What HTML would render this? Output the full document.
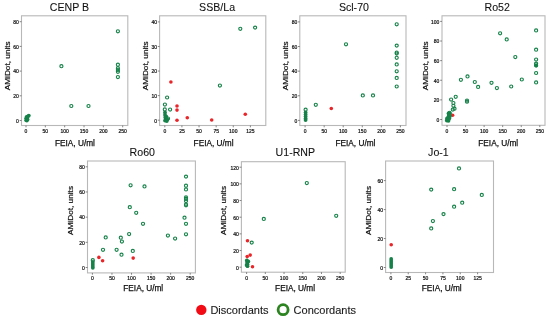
<!DOCTYPE html><html><head><meta charset="utf-8"><style>html,body{margin:0;padding:0;background:#fff;}svg{display:block;filter:blur(0.3px);}text{font-family:"Liberation Sans",sans-serif;}</style></head><body>
<svg width="550" height="318" viewBox="0 0 550 318">
<rect width="550" height="318" fill="#fff"/>
<rect x="21.5" y="15.8" width="106.30" height="109.70" fill="none" stroke="#b8b8b8" stroke-width="1.1"/>
<line x1="19.70" y1="120.50" x2="21.50" y2="120.50" stroke="#666" stroke-width="0.8"/>
<text x="18.90" y="122.80" font-size="5" text-anchor="end" fill="#111" stroke="#111" stroke-width="0.2">0</text>
<line x1="19.70" y1="95.80" x2="21.50" y2="95.80" stroke="#666" stroke-width="0.8"/>
<text x="18.90" y="98.10" font-size="5" text-anchor="end" fill="#111" stroke="#111" stroke-width="0.2">20</text>
<line x1="19.70" y1="71.10" x2="21.50" y2="71.10" stroke="#666" stroke-width="0.8"/>
<text x="18.90" y="73.40" font-size="5" text-anchor="end" fill="#111" stroke="#111" stroke-width="0.2">40</text>
<line x1="19.70" y1="46.40" x2="21.50" y2="46.40" stroke="#666" stroke-width="0.8"/>
<text x="18.90" y="48.70" font-size="5" text-anchor="end" fill="#111" stroke="#111" stroke-width="0.2">60</text>
<line x1="19.70" y1="21.70" x2="21.50" y2="21.70" stroke="#666" stroke-width="0.8"/>
<text x="18.90" y="24.00" font-size="5" text-anchor="end" fill="#111" stroke="#111" stroke-width="0.2">80</text>
<line x1="26.00" y1="125.50" x2="26.00" y2="127.30" stroke="#666" stroke-width="0.8"/>
<text x="26.00" y="132.90" font-size="5" text-anchor="middle" fill="#111" stroke="#111" stroke-width="0.2">0</text>
<line x1="45.34" y1="125.50" x2="45.34" y2="127.30" stroke="#666" stroke-width="0.8"/>
<text x="45.34" y="132.90" font-size="5" text-anchor="middle" fill="#111" stroke="#111" stroke-width="0.2">50</text>
<line x1="64.68" y1="125.50" x2="64.68" y2="127.30" stroke="#666" stroke-width="0.8"/>
<text x="64.68" y="132.90" font-size="5" text-anchor="middle" fill="#111" stroke="#111" stroke-width="0.2">100</text>
<line x1="84.02" y1="125.50" x2="84.02" y2="127.30" stroke="#666" stroke-width="0.8"/>
<text x="84.02" y="132.90" font-size="5" text-anchor="middle" fill="#111" stroke="#111" stroke-width="0.2">150</text>
<line x1="103.36" y1="125.50" x2="103.36" y2="127.30" stroke="#666" stroke-width="0.8"/>
<text x="103.36" y="132.90" font-size="5" text-anchor="middle" fill="#111" stroke="#111" stroke-width="0.2">200</text>
<line x1="122.70" y1="125.50" x2="122.70" y2="127.30" stroke="#666" stroke-width="0.8"/>
<text x="122.70" y="132.90" font-size="5" text-anchor="middle" fill="#111" stroke="#111" stroke-width="0.2">250</text>
<text x="49.8" y="11.3" font-size="10.6" fill="#111" stroke="#111" stroke-width="0.08">CENP B</text>
<text x="55.0" y="145.5" font-size="8.25" fill="#111" stroke="#111" stroke-width="0.25">FEIA, U/ml</text>
<text transform="translate(10.4,65.8) rotate(-90)" font-size="7.6" text-anchor="middle" textLength="49" lengthAdjust="spacingAndGlyphs" fill="#111" stroke="#111" stroke-width="0.2">AMiDot, units</text>
<circle cx="26.2" cy="120.2" r="1.9" fill="#168249"/>
<circle cx="26.2" cy="118.3" r="1.9" fill="#168249"/>
<circle cx="26.6" cy="116.8" r="1.9" fill="#168249"/>
<circle cx="27.6" cy="119.5" r="1.9" fill="#168249"/>
<circle cx="27.8" cy="116.5" r="1.9" fill="#168249"/>
<circle cx="28.8" cy="115.6" r="1.9" fill="#168249"/>
<circle cx="26.8" cy="120.5" r="1.9" fill="#168249"/>
<circle cx="117.9" cy="31.3" r="1.55" fill="none" stroke="#168249" stroke-width="1.15"/>
<circle cx="61.4" cy="66.2" r="1.55" fill="none" stroke="#168249" stroke-width="1.15"/>
<circle cx="71.3" cy="106.0" r="1.55" fill="none" stroke="#168249" stroke-width="1.15"/>
<circle cx="88.5" cy="106.0" r="1.55" fill="none" stroke="#168249" stroke-width="1.15"/>
<circle cx="117.9" cy="64.7" r="1.55" fill="none" stroke="#168249" stroke-width="1.15"/>
<circle cx="117.9" cy="68.2" r="1.55" fill="none" stroke="#168249" stroke-width="1.15"/>
<circle cx="117.9" cy="70" r="1.55" fill="none" stroke="#168249" stroke-width="1.15"/>
<circle cx="117.9" cy="71.8" r="1.55" fill="none" stroke="#168249" stroke-width="1.15"/>
<circle cx="117.9" cy="77.1" r="1.55" fill="none" stroke="#168249" stroke-width="1.15"/>
<rect x="159.6" y="15.8" width="106.20" height="109.70" fill="none" stroke="#b8b8b8" stroke-width="1.1"/>
<line x1="157.80" y1="120.20" x2="159.60" y2="120.20" stroke="#666" stroke-width="0.8"/>
<text x="157.00" y="122.50" font-size="5" text-anchor="end" fill="#111" stroke="#111" stroke-width="0.2">0</text>
<line x1="157.80" y1="95.62" x2="159.60" y2="95.62" stroke="#666" stroke-width="0.8"/>
<text x="157.00" y="97.92" font-size="5" text-anchor="end" fill="#111" stroke="#111" stroke-width="0.2">10</text>
<line x1="157.80" y1="71.05" x2="159.60" y2="71.05" stroke="#666" stroke-width="0.8"/>
<text x="157.00" y="73.35" font-size="5" text-anchor="end" fill="#111" stroke="#111" stroke-width="0.2">20</text>
<line x1="157.80" y1="46.47" x2="159.60" y2="46.47" stroke="#666" stroke-width="0.8"/>
<text x="157.00" y="48.77" font-size="5" text-anchor="end" fill="#111" stroke="#111" stroke-width="0.2">30</text>
<line x1="157.80" y1="21.90" x2="159.60" y2="21.90" stroke="#666" stroke-width="0.8"/>
<text x="157.00" y="24.20" font-size="5" text-anchor="end" fill="#111" stroke="#111" stroke-width="0.2">40</text>
<line x1="164.80" y1="125.50" x2="164.80" y2="127.30" stroke="#666" stroke-width="0.8"/>
<text x="164.80" y="132.90" font-size="5" text-anchor="middle" fill="#111" stroke="#111" stroke-width="0.2">0</text>
<line x1="181.92" y1="125.50" x2="181.92" y2="127.30" stroke="#666" stroke-width="0.8"/>
<text x="181.92" y="132.90" font-size="5" text-anchor="middle" fill="#111" stroke="#111" stroke-width="0.2">25</text>
<line x1="199.04" y1="125.50" x2="199.04" y2="127.30" stroke="#666" stroke-width="0.8"/>
<text x="199.04" y="132.90" font-size="5" text-anchor="middle" fill="#111" stroke="#111" stroke-width="0.2">50</text>
<line x1="216.16" y1="125.50" x2="216.16" y2="127.30" stroke="#666" stroke-width="0.8"/>
<text x="216.16" y="132.90" font-size="5" text-anchor="middle" fill="#111" stroke="#111" stroke-width="0.2">75</text>
<line x1="233.28" y1="125.50" x2="233.28" y2="127.30" stroke="#666" stroke-width="0.8"/>
<text x="233.28" y="132.90" font-size="5" text-anchor="middle" fill="#111" stroke="#111" stroke-width="0.2">100</text>
<line x1="250.40" y1="125.50" x2="250.40" y2="127.30" stroke="#666" stroke-width="0.8"/>
<text x="250.40" y="132.90" font-size="5" text-anchor="middle" fill="#111" stroke="#111" stroke-width="0.2">125</text>
<text x="199.1" y="11.3" font-size="10.6" fill="#111" stroke="#111" stroke-width="0.08">SSB/La</text>
<text x="193.6" y="145.5" font-size="8.25" fill="#111" stroke="#111" stroke-width="0.25">FEIA, U/ml</text>
<text transform="translate(147.7,65.8) rotate(-90)" font-size="7.6" text-anchor="middle" textLength="49" lengthAdjust="spacingAndGlyphs" fill="#111" stroke="#111" stroke-width="0.2">AMiDot, units</text>
<circle cx="170.9" cy="82" r="1.8" fill="#e8262a"/>
<circle cx="177" cy="106" r="1.8" fill="#e8262a"/>
<circle cx="177" cy="110.1" r="1.8" fill="#e8262a"/>
<circle cx="177" cy="120.2" r="1.8" fill="#e8262a"/>
<circle cx="187.3" cy="117.7" r="1.8" fill="#e8262a"/>
<circle cx="211.7" cy="120" r="1.8" fill="#e8262a"/>
<circle cx="245.3" cy="114.3" r="1.8" fill="#e8262a"/>
<circle cx="165" cy="112.5" r="1.9" fill="#168249"/>
<circle cx="165" cy="115" r="1.9" fill="#168249"/>
<circle cx="165.3" cy="117.5" r="1.9" fill="#168249"/>
<circle cx="165.8" cy="119.8" r="1.9" fill="#168249"/>
<circle cx="165" cy="120.6" r="1.9" fill="#168249"/>
<circle cx="167.3" cy="119.5" r="1.9" fill="#168249"/>
<circle cx="166.2" cy="116.5" r="1.9" fill="#168249"/>
<circle cx="166.8" cy="121" r="1.9" fill="#168249"/>
<circle cx="240.3" cy="28.8" r="1.55" fill="none" stroke="#168249" stroke-width="1.15"/>
<circle cx="255.1" cy="27.6" r="1.55" fill="none" stroke="#168249" stroke-width="1.15"/>
<circle cx="219.9" cy="85.6" r="1.55" fill="none" stroke="#168249" stroke-width="1.15"/>
<circle cx="167.1" cy="97.5" r="1.55" fill="none" stroke="#168249" stroke-width="1.15"/>
<circle cx="164.9" cy="104.6" r="1.55" fill="none" stroke="#168249" stroke-width="1.15"/>
<circle cx="170.1" cy="109.6" r="1.55" fill="none" stroke="#168249" stroke-width="1.15"/>
<circle cx="164.8" cy="109.4" r="1.55" fill="none" stroke="#168249" stroke-width="1.15"/>
<circle cx="168.0" cy="118.6" r="1.55" fill="none" stroke="#168249" stroke-width="1.15"/>
<rect x="299.8" y="15.8" width="106.20" height="109.70" fill="none" stroke="#b8b8b8" stroke-width="1.1"/>
<line x1="298.00" y1="120.40" x2="299.80" y2="120.40" stroke="#666" stroke-width="0.8"/>
<text x="297.20" y="122.70" font-size="5" text-anchor="end" fill="#111" stroke="#111" stroke-width="0.2">0</text>
<line x1="298.00" y1="95.78" x2="299.80" y2="95.78" stroke="#666" stroke-width="0.8"/>
<text x="297.20" y="98.08" font-size="5" text-anchor="end" fill="#111" stroke="#111" stroke-width="0.2">20</text>
<line x1="298.00" y1="71.15" x2="299.80" y2="71.15" stroke="#666" stroke-width="0.8"/>
<text x="297.20" y="73.45" font-size="5" text-anchor="end" fill="#111" stroke="#111" stroke-width="0.2">40</text>
<line x1="298.00" y1="46.53" x2="299.80" y2="46.53" stroke="#666" stroke-width="0.8"/>
<text x="297.20" y="48.83" font-size="5" text-anchor="end" fill="#111" stroke="#111" stroke-width="0.2">60</text>
<line x1="298.00" y1="21.90" x2="299.80" y2="21.90" stroke="#666" stroke-width="0.8"/>
<text x="297.20" y="24.20" font-size="5" text-anchor="end" fill="#111" stroke="#111" stroke-width="0.2">80</text>
<line x1="305.10" y1="125.50" x2="305.10" y2="127.30" stroke="#666" stroke-width="0.8"/>
<text x="305.10" y="132.90" font-size="5" text-anchor="middle" fill="#111" stroke="#111" stroke-width="0.2">0</text>
<line x1="324.16" y1="125.50" x2="324.16" y2="127.30" stroke="#666" stroke-width="0.8"/>
<text x="324.16" y="132.90" font-size="5" text-anchor="middle" fill="#111" stroke="#111" stroke-width="0.2">50</text>
<line x1="343.22" y1="125.50" x2="343.22" y2="127.30" stroke="#666" stroke-width="0.8"/>
<text x="343.22" y="132.90" font-size="5" text-anchor="middle" fill="#111" stroke="#111" stroke-width="0.2">100</text>
<line x1="362.28" y1="125.50" x2="362.28" y2="127.30" stroke="#666" stroke-width="0.8"/>
<text x="362.28" y="132.90" font-size="5" text-anchor="middle" fill="#111" stroke="#111" stroke-width="0.2">150</text>
<line x1="381.34" y1="125.50" x2="381.34" y2="127.30" stroke="#666" stroke-width="0.8"/>
<text x="381.34" y="132.90" font-size="5" text-anchor="middle" fill="#111" stroke="#111" stroke-width="0.2">200</text>
<line x1="400.40" y1="125.50" x2="400.40" y2="127.30" stroke="#666" stroke-width="0.8"/>
<text x="400.40" y="132.90" font-size="5" text-anchor="middle" fill="#111" stroke="#111" stroke-width="0.2">250</text>
<text x="338.9" y="11.3" font-size="10.6" fill="#111" stroke="#111" stroke-width="0.08">Scl-70</text>
<text x="335.5" y="145.5" font-size="8.25" fill="#111" stroke="#111" stroke-width="0.25">FEIA, U/ml</text>
<text transform="translate(287.6,65.8) rotate(-90)" font-size="7.6" text-anchor="middle" textLength="49" lengthAdjust="spacingAndGlyphs" fill="#111" stroke="#111" stroke-width="0.2">AMiDot, units</text>
<circle cx="331.3" cy="108.5" r="1.8" fill="#e8262a"/>
<circle cx="305.6" cy="112.5" r="1.9" fill="#168249"/>
<circle cx="305.6" cy="114.5" r="1.9" fill="#168249"/>
<circle cx="305.6" cy="116.5" r="1.9" fill="#168249"/>
<circle cx="305.6" cy="118.5" r="1.9" fill="#168249"/>
<circle cx="305.6" cy="120" r="1.9" fill="#168249"/>
<circle cx="396.7" cy="24.3" r="1.55" fill="none" stroke="#168249" stroke-width="1.15"/>
<circle cx="396.7" cy="45.6" r="1.55" fill="none" stroke="#168249" stroke-width="1.15"/>
<circle cx="396.7" cy="52.5" r="1.55" fill="none" stroke="#168249" stroke-width="1.15"/>
<circle cx="396.7" cy="53.5" r="1.55" fill="none" stroke="#168249" stroke-width="1.15"/>
<circle cx="396.7" cy="57.8" r="1.55" fill="none" stroke="#168249" stroke-width="1.15"/>
<circle cx="396.7" cy="64.4" r="1.55" fill="none" stroke="#168249" stroke-width="1.15"/>
<circle cx="396.7" cy="71.3" r="1.55" fill="none" stroke="#168249" stroke-width="1.15"/>
<circle cx="396.7" cy="77.9" r="1.55" fill="none" stroke="#168249" stroke-width="1.15"/>
<circle cx="396.7" cy="86.5" r="1.55" fill="none" stroke="#168249" stroke-width="1.15"/>
<circle cx="346" cy="44.3" r="1.55" fill="none" stroke="#168249" stroke-width="1.15"/>
<circle cx="362.8" cy="95.4" r="1.55" fill="none" stroke="#168249" stroke-width="1.15"/>
<circle cx="373" cy="95.4" r="1.55" fill="none" stroke="#168249" stroke-width="1.15"/>
<circle cx="315.8" cy="104.8" r="1.55" fill="none" stroke="#168249" stroke-width="1.15"/>
<circle cx="305.6" cy="109.7" r="1.55" fill="none" stroke="#168249" stroke-width="1.15"/>
<rect x="442.0" y="15.8" width="103.00" height="109.50" fill="none" stroke="#b8b8b8" stroke-width="1.1"/>
<line x1="440.20" y1="119.50" x2="442.00" y2="119.50" stroke="#666" stroke-width="0.8"/>
<text x="439.40" y="121.80" font-size="5" text-anchor="end" fill="#111" stroke="#111" stroke-width="0.2">0</text>
<line x1="440.20" y1="99.88" x2="442.00" y2="99.88" stroke="#666" stroke-width="0.8"/>
<text x="439.40" y="102.18" font-size="5" text-anchor="end" fill="#111" stroke="#111" stroke-width="0.2">20</text>
<line x1="440.20" y1="80.26" x2="442.00" y2="80.26" stroke="#666" stroke-width="0.8"/>
<text x="439.40" y="82.56" font-size="5" text-anchor="end" fill="#111" stroke="#111" stroke-width="0.2">40</text>
<line x1="440.20" y1="60.64" x2="442.00" y2="60.64" stroke="#666" stroke-width="0.8"/>
<text x="439.40" y="62.94" font-size="5" text-anchor="end" fill="#111" stroke="#111" stroke-width="0.2">60</text>
<line x1="440.20" y1="41.02" x2="442.00" y2="41.02" stroke="#666" stroke-width="0.8"/>
<text x="439.40" y="43.32" font-size="5" text-anchor="end" fill="#111" stroke="#111" stroke-width="0.2">80</text>
<line x1="440.20" y1="21.40" x2="442.00" y2="21.40" stroke="#666" stroke-width="0.8"/>
<text x="439.40" y="23.70" font-size="5" text-anchor="end" fill="#111" stroke="#111" stroke-width="0.2">100</text>
<line x1="447.00" y1="125.30" x2="447.00" y2="127.10" stroke="#666" stroke-width="0.8"/>
<text x="447.00" y="132.70" font-size="5" text-anchor="middle" fill="#111" stroke="#111" stroke-width="0.2">0</text>
<line x1="465.56" y1="125.30" x2="465.56" y2="127.10" stroke="#666" stroke-width="0.8"/>
<text x="465.56" y="132.70" font-size="5" text-anchor="middle" fill="#111" stroke="#111" stroke-width="0.2">50</text>
<line x1="484.12" y1="125.30" x2="484.12" y2="127.10" stroke="#666" stroke-width="0.8"/>
<text x="484.12" y="132.70" font-size="5" text-anchor="middle" fill="#111" stroke="#111" stroke-width="0.2">100</text>
<line x1="502.68" y1="125.30" x2="502.68" y2="127.10" stroke="#666" stroke-width="0.8"/>
<text x="502.68" y="132.70" font-size="5" text-anchor="middle" fill="#111" stroke="#111" stroke-width="0.2">150</text>
<line x1="521.24" y1="125.30" x2="521.24" y2="127.10" stroke="#666" stroke-width="0.8"/>
<text x="521.24" y="132.70" font-size="5" text-anchor="middle" fill="#111" stroke="#111" stroke-width="0.2">200</text>
<line x1="539.80" y1="125.30" x2="539.80" y2="127.10" stroke="#666" stroke-width="0.8"/>
<text x="539.80" y="132.70" font-size="5" text-anchor="middle" fill="#111" stroke="#111" stroke-width="0.2">250</text>
<text x="484.5" y="11.3" font-size="10.6" fill="#111" stroke="#111" stroke-width="0.08">Ro52</text>
<text x="478.3" y="145.5" font-size="8.25" fill="#111" stroke="#111" stroke-width="0.25">FEIA, U/ml</text>
<text transform="translate(428.3,65.8) rotate(-90)" font-size="7.6" text-anchor="middle" textLength="49" lengthAdjust="spacingAndGlyphs" fill="#111" stroke="#111" stroke-width="0.2">AMiDot, units</text>
<circle cx="452.6" cy="115.3" r="1.8" fill="#e8262a"/>
<circle cx="536.1" cy="65.3" r="1.9" fill="#168249"/>
<circle cx="448.5" cy="113.5" r="1.9" fill="#168249"/>
<circle cx="449.8" cy="113.3" r="1.9" fill="#168249"/>
<circle cx="448.5" cy="116.5" r="1.9" fill="#168249"/>
<circle cx="447" cy="118.5" r="1.9" fill="#168249"/>
<circle cx="446.8" cy="120.5" r="1.9" fill="#168249"/>
<circle cx="448.5" cy="120.8" r="1.9" fill="#168249"/>
<circle cx="449.3" cy="118.5" r="1.9" fill="#168249"/>
<circle cx="450" cy="116" r="1.9" fill="#168249"/>
<circle cx="536.1" cy="30.4" r="1.55" fill="none" stroke="#168249" stroke-width="1.15"/>
<circle cx="536.1" cy="49.7" r="1.55" fill="none" stroke="#168249" stroke-width="1.15"/>
<circle cx="536.1" cy="59.5" r="1.55" fill="none" stroke="#168249" stroke-width="1.15"/>
<circle cx="536.1" cy="63.6" r="1.55" fill="none" stroke="#168249" stroke-width="1.15"/>
<circle cx="536.1" cy="65.6" r="1.55" fill="none" stroke="#168249" stroke-width="1.15"/>
<circle cx="536.1" cy="73" r="1.55" fill="none" stroke="#168249" stroke-width="1.15"/>
<circle cx="536.1" cy="82.4" r="1.55" fill="none" stroke="#168249" stroke-width="1.15"/>
<circle cx="500.1" cy="33.3" r="1.55" fill="none" stroke="#168249" stroke-width="1.15"/>
<circle cx="506.7" cy="39.4" r="1.55" fill="none" stroke="#168249" stroke-width="1.15"/>
<circle cx="515.3" cy="57" r="1.55" fill="none" stroke="#168249" stroke-width="1.15"/>
<circle cx="521.8" cy="79.5" r="1.55" fill="none" stroke="#168249" stroke-width="1.15"/>
<circle cx="511.2" cy="86.5" r="1.55" fill="none" stroke="#168249" stroke-width="1.15"/>
<circle cx="496.9" cy="88.1" r="1.55" fill="none" stroke="#168249" stroke-width="1.15"/>
<circle cx="491.5" cy="82.8" r="1.55" fill="none" stroke="#168249" stroke-width="1.15"/>
<circle cx="478.1" cy="86.9" r="1.55" fill="none" stroke="#168249" stroke-width="1.15"/>
<circle cx="474.8" cy="82" r="1.55" fill="none" stroke="#168249" stroke-width="1.15"/>
<circle cx="467.5" cy="76.4" r="1.55" fill="none" stroke="#168249" stroke-width="1.15"/>
<circle cx="460.9" cy="79.8" r="1.55" fill="none" stroke="#168249" stroke-width="1.15"/>
<circle cx="467" cy="100.6" r="1.55" fill="none" stroke="#168249" stroke-width="1.15"/>
<circle cx="467" cy="101.7" r="1.55" fill="none" stroke="#168249" stroke-width="1.15"/>
<circle cx="455.7" cy="96.8" r="1.55" fill="none" stroke="#168249" stroke-width="1.15"/>
<circle cx="451.1" cy="99.6" r="1.55" fill="none" stroke="#168249" stroke-width="1.15"/>
<circle cx="453.4" cy="103" r="1.55" fill="none" stroke="#168249" stroke-width="1.15"/>
<circle cx="453.4" cy="105.8" r="1.55" fill="none" stroke="#168249" stroke-width="1.15"/>
<circle cx="454.5" cy="108.7" r="1.55" fill="none" stroke="#168249" stroke-width="1.15"/>
<circle cx="452.8" cy="109.6" r="1.55" fill="none" stroke="#168249" stroke-width="1.15"/>
<circle cx="449.5" cy="112.8" r="1.55" fill="none" stroke="#168249" stroke-width="1.15"/>
<rect x="87.5" y="161.0" width="107.90" height="111.90" fill="none" stroke="#b8b8b8" stroke-width="1.1"/>
<line x1="85.70" y1="267.50" x2="87.50" y2="267.50" stroke="#666" stroke-width="0.8"/>
<text x="84.90" y="269.80" font-size="5" text-anchor="end" fill="#111" stroke="#111" stroke-width="0.2">0</text>
<line x1="85.70" y1="242.32" x2="87.50" y2="242.32" stroke="#666" stroke-width="0.8"/>
<text x="84.90" y="244.62" font-size="5" text-anchor="end" fill="#111" stroke="#111" stroke-width="0.2">20</text>
<line x1="85.70" y1="217.15" x2="87.50" y2="217.15" stroke="#666" stroke-width="0.8"/>
<text x="84.90" y="219.45" font-size="5" text-anchor="end" fill="#111" stroke="#111" stroke-width="0.2">40</text>
<line x1="85.70" y1="191.98" x2="87.50" y2="191.98" stroke="#666" stroke-width="0.8"/>
<text x="84.90" y="194.28" font-size="5" text-anchor="end" fill="#111" stroke="#111" stroke-width="0.2">60</text>
<line x1="85.70" y1="166.80" x2="87.50" y2="166.80" stroke="#666" stroke-width="0.8"/>
<text x="84.90" y="169.10" font-size="5" text-anchor="end" fill="#111" stroke="#111" stroke-width="0.2">80</text>
<line x1="92.40" y1="272.90" x2="92.40" y2="274.70" stroke="#666" stroke-width="0.8"/>
<text x="92.40" y="280.30" font-size="5" text-anchor="middle" fill="#111" stroke="#111" stroke-width="0.2">0</text>
<line x1="111.96" y1="272.90" x2="111.96" y2="274.70" stroke="#666" stroke-width="0.8"/>
<text x="111.96" y="280.30" font-size="5" text-anchor="middle" fill="#111" stroke="#111" stroke-width="0.2">50</text>
<line x1="131.52" y1="272.90" x2="131.52" y2="274.70" stroke="#666" stroke-width="0.8"/>
<text x="131.52" y="280.30" font-size="5" text-anchor="middle" fill="#111" stroke="#111" stroke-width="0.2">100</text>
<line x1="151.08" y1="272.90" x2="151.08" y2="274.70" stroke="#666" stroke-width="0.8"/>
<text x="151.08" y="280.30" font-size="5" text-anchor="middle" fill="#111" stroke="#111" stroke-width="0.2">150</text>
<line x1="170.64" y1="272.90" x2="170.64" y2="274.70" stroke="#666" stroke-width="0.8"/>
<text x="170.64" y="280.30" font-size="5" text-anchor="middle" fill="#111" stroke="#111" stroke-width="0.2">200</text>
<line x1="190.20" y1="272.90" x2="190.20" y2="274.70" stroke="#666" stroke-width="0.8"/>
<text x="190.20" y="280.30" font-size="5" text-anchor="middle" fill="#111" stroke="#111" stroke-width="0.2">250</text>
<text x="129.6" y="156.3" font-size="10.6" fill="#111" stroke="#111" stroke-width="0.08">Ro60</text>
<text x="123.3" y="291.0" font-size="8.25" fill="#111" stroke="#111" stroke-width="0.25">FEIA, U/ml</text>
<text transform="translate(73.0,210.5) rotate(-90)" font-size="7.6" text-anchor="middle" textLength="49" lengthAdjust="spacingAndGlyphs" fill="#111" stroke="#111" stroke-width="0.2">AMiDot, units</text>
<circle cx="98.9" cy="257.4" r="1.8" fill="#e8262a"/>
<circle cx="102.6" cy="260.8" r="1.8" fill="#e8262a"/>
<circle cx="133.2" cy="258.1" r="1.8" fill="#e8262a"/>
<circle cx="92.8" cy="262" r="1.9" fill="#168249"/>
<circle cx="92.8" cy="264" r="1.9" fill="#168249"/>
<circle cx="92.8" cy="266" r="1.9" fill="#168249"/>
<circle cx="92.8" cy="267.8" r="1.9" fill="#168249"/>
<circle cx="186" cy="176.6" r="1.55" fill="none" stroke="#168249" stroke-width="1.15"/>
<circle cx="186" cy="185.7" r="1.55" fill="none" stroke="#168249" stroke-width="1.15"/>
<circle cx="186" cy="189.4" r="1.55" fill="none" stroke="#168249" stroke-width="1.15"/>
<circle cx="186" cy="197.4" r="1.55" fill="none" stroke="#168249" stroke-width="1.15"/>
<circle cx="186" cy="198.9" r="1.55" fill="none" stroke="#168249" stroke-width="1.15"/>
<circle cx="186" cy="201.1" r="1.55" fill="none" stroke="#168249" stroke-width="1.15"/>
<circle cx="186" cy="204.5" r="1.55" fill="none" stroke="#168249" stroke-width="1.15"/>
<circle cx="186" cy="205.3" r="1.55" fill="none" stroke="#168249" stroke-width="1.15"/>
<circle cx="184.5" cy="217.7" r="1.55" fill="none" stroke="#168249" stroke-width="1.15"/>
<circle cx="186" cy="223.8" r="1.55" fill="none" stroke="#168249" stroke-width="1.15"/>
<circle cx="186" cy="234.3" r="1.55" fill="none" stroke="#168249" stroke-width="1.15"/>
<circle cx="167.9" cy="235.5" r="1.55" fill="none" stroke="#168249" stroke-width="1.15"/>
<circle cx="175.1" cy="238.5" r="1.55" fill="none" stroke="#168249" stroke-width="1.15"/>
<circle cx="130.6" cy="185.3" r="1.55" fill="none" stroke="#168249" stroke-width="1.15"/>
<circle cx="144.5" cy="186.4" r="1.55" fill="none" stroke="#168249" stroke-width="1.15"/>
<circle cx="129.8" cy="207.2" r="1.55" fill="none" stroke="#168249" stroke-width="1.15"/>
<circle cx="136.2" cy="212.8" r="1.55" fill="none" stroke="#168249" stroke-width="1.15"/>
<circle cx="143" cy="223.8" r="1.55" fill="none" stroke="#168249" stroke-width="1.15"/>
<circle cx="129.1" cy="234" r="1.55" fill="none" stroke="#168249" stroke-width="1.15"/>
<circle cx="105.7" cy="237.4" r="1.55" fill="none" stroke="#168249" stroke-width="1.15"/>
<circle cx="120.8" cy="237.7" r="1.55" fill="none" stroke="#168249" stroke-width="1.15"/>
<circle cx="121.9" cy="241.5" r="1.55" fill="none" stroke="#168249" stroke-width="1.15"/>
<circle cx="103" cy="249.8" r="1.55" fill="none" stroke="#168249" stroke-width="1.15"/>
<circle cx="116.6" cy="249.8" r="1.55" fill="none" stroke="#168249" stroke-width="1.15"/>
<circle cx="121.5" cy="254.7" r="1.55" fill="none" stroke="#168249" stroke-width="1.15"/>
<circle cx="132.8" cy="250.9" r="1.55" fill="none" stroke="#168249" stroke-width="1.15"/>
<circle cx="92.8" cy="260.2" r="1.55" fill="none" stroke="#168249" stroke-width="1.15"/>
<rect x="241.4" y="161.70000000000002" width="103.80" height="110.50" fill="none" stroke="#b8b8b8" stroke-width="1.1"/>
<line x1="239.60" y1="267.20" x2="241.40" y2="267.20" stroke="#666" stroke-width="0.8"/>
<text x="238.80" y="269.50" font-size="5" text-anchor="end" fill="#111" stroke="#111" stroke-width="0.2">0</text>
<line x1="239.60" y1="250.53" x2="241.40" y2="250.53" stroke="#666" stroke-width="0.8"/>
<text x="238.80" y="252.83" font-size="5" text-anchor="end" fill="#111" stroke="#111" stroke-width="0.2">20</text>
<line x1="239.60" y1="233.87" x2="241.40" y2="233.87" stroke="#666" stroke-width="0.8"/>
<text x="238.80" y="236.17" font-size="5" text-anchor="end" fill="#111" stroke="#111" stroke-width="0.2">40</text>
<line x1="239.60" y1="217.20" x2="241.40" y2="217.20" stroke="#666" stroke-width="0.8"/>
<text x="238.80" y="219.50" font-size="5" text-anchor="end" fill="#111" stroke="#111" stroke-width="0.2">60</text>
<line x1="239.60" y1="200.53" x2="241.40" y2="200.53" stroke="#666" stroke-width="0.8"/>
<text x="238.80" y="202.83" font-size="5" text-anchor="end" fill="#111" stroke="#111" stroke-width="0.2">80</text>
<line x1="239.60" y1="183.87" x2="241.40" y2="183.87" stroke="#666" stroke-width="0.8"/>
<text x="238.80" y="186.17" font-size="5" text-anchor="end" fill="#111" stroke="#111" stroke-width="0.2">100</text>
<line x1="239.60" y1="167.20" x2="241.40" y2="167.20" stroke="#666" stroke-width="0.8"/>
<text x="238.80" y="169.50" font-size="5" text-anchor="end" fill="#111" stroke="#111" stroke-width="0.2">120</text>
<line x1="246.60" y1="272.20" x2="246.60" y2="274.00" stroke="#666" stroke-width="0.8"/>
<text x="246.60" y="279.60" font-size="5" text-anchor="middle" fill="#111" stroke="#111" stroke-width="0.2">0</text>
<line x1="265.32" y1="272.20" x2="265.32" y2="274.00" stroke="#666" stroke-width="0.8"/>
<text x="265.32" y="279.60" font-size="5" text-anchor="middle" fill="#111" stroke="#111" stroke-width="0.2">50</text>
<line x1="284.04" y1="272.20" x2="284.04" y2="274.00" stroke="#666" stroke-width="0.8"/>
<text x="284.04" y="279.60" font-size="5" text-anchor="middle" fill="#111" stroke="#111" stroke-width="0.2">100</text>
<line x1="302.76" y1="272.20" x2="302.76" y2="274.00" stroke="#666" stroke-width="0.8"/>
<text x="302.76" y="279.60" font-size="5" text-anchor="middle" fill="#111" stroke="#111" stroke-width="0.2">150</text>
<line x1="321.48" y1="272.20" x2="321.48" y2="274.00" stroke="#666" stroke-width="0.8"/>
<text x="321.48" y="279.60" font-size="5" text-anchor="middle" fill="#111" stroke="#111" stroke-width="0.2">200</text>
<line x1="340.20" y1="272.20" x2="340.20" y2="274.00" stroke="#666" stroke-width="0.8"/>
<text x="340.20" y="279.60" font-size="5" text-anchor="middle" fill="#111" stroke="#111" stroke-width="0.2">250</text>
<text x="275.6" y="156.3" font-size="10.6" fill="#111" stroke="#111" stroke-width="0.08">U1-RNP</text>
<text x="275.1" y="291.0" font-size="8.25" fill="#111" stroke="#111" stroke-width="0.25">FEIA, U/ml</text>
<text transform="translate(226.0,210.5) rotate(-90)" font-size="7.6" text-anchor="middle" textLength="49" lengthAdjust="spacingAndGlyphs" fill="#111" stroke="#111" stroke-width="0.2">AMiDot, units</text>
<circle cx="247.5" cy="240.8" r="1.8" fill="#e8262a"/>
<circle cx="247.2" cy="256.6" r="1.8" fill="#e8262a"/>
<circle cx="250.2" cy="255.1" r="1.8" fill="#e8262a"/>
<circle cx="252.5" cy="266.8" r="1.8" fill="#e8262a"/>
<circle cx="246.8" cy="260.5" r="1.9" fill="#168249"/>
<circle cx="247.2" cy="262.5" r="1.9" fill="#168249"/>
<circle cx="247.5" cy="264.5" r="1.9" fill="#168249"/>
<circle cx="247.5" cy="266.2" r="1.9" fill="#168249"/>
<circle cx="248.3" cy="261.5" r="1.9" fill="#168249"/>
<circle cx="246.6" cy="265" r="1.9" fill="#168249"/>
<circle cx="306.8" cy="183" r="1.55" fill="none" stroke="#168249" stroke-width="1.15"/>
<circle cx="336.2" cy="215.8" r="1.55" fill="none" stroke="#168249" stroke-width="1.15"/>
<circle cx="263.8" cy="218.9" r="1.55" fill="none" stroke="#168249" stroke-width="1.15"/>
<circle cx="251.7" cy="242.6" r="1.55" fill="none" stroke="#168249" stroke-width="1.15"/>
<rect x="385.6" y="161.0" width="107.90" height="111.50" fill="none" stroke="#b8b8b8" stroke-width="1.1"/>
<line x1="383.80" y1="267.50" x2="385.60" y2="267.50" stroke="#666" stroke-width="0.8"/>
<text x="383.00" y="269.80" font-size="5" text-anchor="end" fill="#111" stroke="#111" stroke-width="0.2">0</text>
<line x1="383.80" y1="238.53" x2="385.60" y2="238.53" stroke="#666" stroke-width="0.8"/>
<text x="383.00" y="240.83" font-size="5" text-anchor="end" fill="#111" stroke="#111" stroke-width="0.2">20</text>
<line x1="383.80" y1="209.57" x2="385.60" y2="209.57" stroke="#666" stroke-width="0.8"/>
<text x="383.00" y="211.87" font-size="5" text-anchor="end" fill="#111" stroke="#111" stroke-width="0.2">40</text>
<line x1="383.80" y1="180.60" x2="385.60" y2="180.60" stroke="#666" stroke-width="0.8"/>
<text x="383.00" y="182.90" font-size="5" text-anchor="end" fill="#111" stroke="#111" stroke-width="0.2">60</text>
<line x1="390.90" y1="272.50" x2="390.90" y2="274.30" stroke="#666" stroke-width="0.8"/>
<text x="390.90" y="279.90" font-size="5" text-anchor="middle" fill="#111" stroke="#111" stroke-width="0.2">0</text>
<line x1="408.24" y1="272.50" x2="408.24" y2="274.30" stroke="#666" stroke-width="0.8"/>
<text x="408.24" y="279.90" font-size="5" text-anchor="middle" fill="#111" stroke="#111" stroke-width="0.2">25</text>
<line x1="425.58" y1="272.50" x2="425.58" y2="274.30" stroke="#666" stroke-width="0.8"/>
<text x="425.58" y="279.90" font-size="5" text-anchor="middle" fill="#111" stroke="#111" stroke-width="0.2">50</text>
<line x1="442.92" y1="272.50" x2="442.92" y2="274.30" stroke="#666" stroke-width="0.8"/>
<text x="442.92" y="279.90" font-size="5" text-anchor="middle" fill="#111" stroke="#111" stroke-width="0.2">75</text>
<line x1="460.26" y1="272.50" x2="460.26" y2="274.30" stroke="#666" stroke-width="0.8"/>
<text x="460.26" y="279.90" font-size="5" text-anchor="middle" fill="#111" stroke="#111" stroke-width="0.2">100</text>
<line x1="477.60" y1="272.50" x2="477.60" y2="274.30" stroke="#666" stroke-width="0.8"/>
<text x="477.60" y="279.90" font-size="5" text-anchor="middle" fill="#111" stroke="#111" stroke-width="0.2">125</text>
<text x="428.1" y="156.3" font-size="10.6" fill="#111" stroke="#111" stroke-width="0.08">Jo-1</text>
<text x="421.8" y="291.0" font-size="8.25" fill="#111" stroke="#111" stroke-width="0.25">FEIA, U/ml</text>
<text transform="translate(370.5,210.5) rotate(-90)" font-size="7.6" text-anchor="middle" textLength="49" lengthAdjust="spacingAndGlyphs" fill="#111" stroke="#111" stroke-width="0.2">AMiDot, units</text>
<circle cx="391.2" cy="244.7" r="1.8" fill="#e8262a"/>
<circle cx="391.2" cy="259" r="1.9" fill="#168249"/>
<circle cx="391.2" cy="261" r="1.9" fill="#168249"/>
<circle cx="391.2" cy="263" r="1.9" fill="#168249"/>
<circle cx="391.2" cy="265" r="1.9" fill="#168249"/>
<circle cx="391.2" cy="267" r="1.9" fill="#168249"/>
<circle cx="459" cy="168.4" r="1.55" fill="none" stroke="#168249" stroke-width="1.15"/>
<circle cx="431.2" cy="189.6" r="1.55" fill="none" stroke="#168249" stroke-width="1.15"/>
<circle cx="454.1" cy="189.2" r="1.55" fill="none" stroke="#168249" stroke-width="1.15"/>
<circle cx="481.8" cy="194.9" r="1.55" fill="none" stroke="#168249" stroke-width="1.15"/>
<circle cx="462.2" cy="202.7" r="1.55" fill="none" stroke="#168249" stroke-width="1.15"/>
<circle cx="454.1" cy="206.7" r="1.55" fill="none" stroke="#168249" stroke-width="1.15"/>
<circle cx="443.5" cy="214.1" r="1.55" fill="none" stroke="#168249" stroke-width="1.15"/>
<circle cx="432.9" cy="221" r="1.55" fill="none" stroke="#168249" stroke-width="1.15"/>
<circle cx="431.2" cy="228.4" r="1.55" fill="none" stroke="#168249" stroke-width="1.15"/>
<circle cx="201.3" cy="309.9" r="5.2" fill="#f20a14"/>
<text x="210.4" y="314.1" font-size="11" fill="#1a1a1a" stroke="#1a1a1a" stroke-width="0.12">Discordants</text>
<circle cx="283.1" cy="309.7" r="5.0" fill="none" stroke="#2c8420" stroke-width="2.8"/>
<text x="293.6" y="314.1" font-size="11" fill="#1a1a1a" stroke="#1a1a1a" stroke-width="0.12">Concordants</text>
</svg></body></html>
